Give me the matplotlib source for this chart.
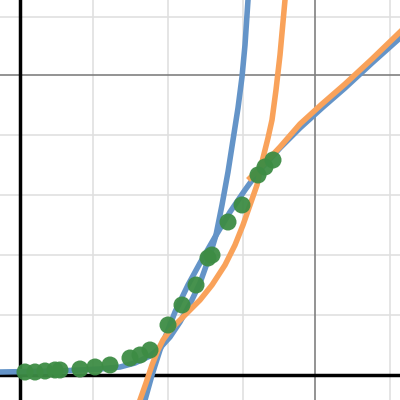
import numpy as np
import matplotlib
matplotlib.use('Agg')
import matplotlib.pyplot as plt

# curve samples (graph units, origin bottom-left of view)
blue_exp_x = [0, 60, 100, 120, 135, 150, 160, 170, 180, 190, 200, 210, 216, 222,
              228, 233, 238, 242, 245, 248]
blue_exp_y = [28, 29, 31, 33, 37, 44, 52, 63, 78, 96, 117, 145, 165, 195,
              228, 260, 292, 323, 355, 400]
blue_log_x = [145, 152, 160, 168, 175, 188, 200, 215, 230, 245, 258, 280, 300, 322, 345, 372, 400]
blue_log_y = [0, 25, 50, 70, 88, 115, 137, 163, 188, 210, 228, 252, 272, 292, 312, 337, 362]
orange_s_x = [140, 146, 152, 158, 163, 168, 175, 185, 200, 212, 225, 235, 243, 250, 257,
              263, 268, 272, 276, 280, 285]
orange_s_y = [0, 17, 35, 50, 60, 67, 75, 85, 100, 115, 135, 155, 175, 195, 215,
              242, 262, 280, 310, 345, 400]
orange_log_x = [250, 265, 280, 300, 322, 345, 372, 400]
orange_log_y = [222, 237, 253, 276, 296, 316, 341, 368]

pts_x = [25, 35, 45, 55, 60, 80, 95, 110, 130, 140, 150, 168, 182, 196, 208,
         212, 228, 242, 258, 265, 273]
pts_y = [28, 28, 29, 30, 30, 31, 33, 35, 42, 45, 50, 75, 95, 115, 142,
         145, 178, 195, 225, 233, 240]

fig = plt.figure(figsize=(4, 4), dpi=100)
ax = fig.add_axes([0, 0, 1, 1])
ax.set_xlim(0, 400)
ax.set_ylim(0, 400)
ax.axis('off')

for gx in [93, 168, 243, 390]:
    ax.axvline(gx, color='#e0e0e0', lw=1.2, zorder=0)
for gy in [383, 265, 205, 145, 85]:
    ax.axhline(gy, color='#e0e0e0', lw=1.2, zorder=0)
ax.axvline(315, color='#808080', lw=1.2, zorder=0)
ax.axhline(325, color='#808080', lw=1.2, zorder=0)
ax.axvline(20, color='black', lw=2.5, zorder=1)
ax.axhline(25, color='black', lw=2.5, zorder=1)

blue = '#6494c8'
orange = '#f9a25a'
ax.plot(blue_exp_x, blue_exp_y, color=blue, lw=4, zorder=2)
ax.plot(blue_log_x, blue_log_y, color=blue, lw=4, zorder=2)
ax.plot(orange_s_x, orange_s_y, color=orange, lw=4, zorder=3)
ax.plot(orange_log_x, orange_log_y, color=orange, lw=4, zorder=3)
ax.scatter(pts_x, pts_y, s=150, color='#3d8c44', alpha=0.95, zorder=4, edgecolors='none')

fig.savefig('out.png', dpi=100)
